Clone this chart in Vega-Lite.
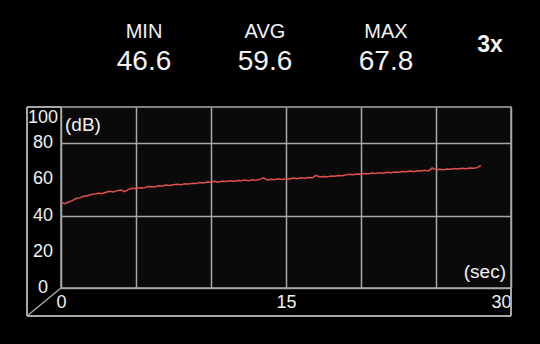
{
  "$schema": "https://vega.github.io/schema/vega-lite/v6.json",
  "autosize": "none",
  "width": 450,
  "height": 181,
  "padding": {"left": 61, "top": 107, "right": 29, "bottom": 56},
  "background": "#000000",
  "config": {
    "font": "Liberation Sans",
    "view": {"stroke": "#a8a8a8", "strokeWidth": 1.5, "fill": "#0a0a0a"},
    "text": {"color": "#f2f2f2", "font": "Liberation Sans"}
  },
  "datasets": {
    "spl": [
      {"t": 0.00, "v": 47.4}, {"t": 0.25, "v": 46.6}, {"t": 0.50, "v": 47.5}, {"t": 0.75, "v": 48.3},
      {"t": 1.00, "v": 49.4}, {"t": 1.25, "v": 49.8}, {"t": 1.50, "v": 50.7}, {"t": 1.75, "v": 50.9},
      {"t": 2.00, "v": 51.6}, {"t": 2.25, "v": 51.9}, {"t": 2.50, "v": 52.4}, {"t": 2.75, "v": 52.2},
      {"t": 3.00, "v": 52.9}, {"t": 3.25, "v": 53.4}, {"t": 3.50, "v": 53.1}, {"t": 3.75, "v": 53.8},
      {"t": 4.00, "v": 54.1}, {"t": 4.25, "v": 53.2}, {"t": 4.50, "v": 54.5}, {"t": 4.75, "v": 55.1},
      {"t": 5.00, "v": 55.0}, {"t": 5.25, "v": 55.4}, {"t": 5.50, "v": 55.2}, {"t": 5.75, "v": 55.9},
      {"t": 6.00, "v": 56.1}, {"t": 6.25, "v": 55.8}, {"t": 6.50, "v": 56.5}, {"t": 6.75, "v": 56.4},
      {"t": 7.00, "v": 56.9}, {"t": 7.25, "v": 56.6}, {"t": 7.50, "v": 57.1}, {"t": 7.75, "v": 57.3},
      {"t": 8.00, "v": 57.0}, {"t": 8.25, "v": 57.6}, {"t": 8.50, "v": 57.4}, {"t": 8.75, "v": 57.9},
      {"t": 9.00, "v": 57.7}, {"t": 9.25, "v": 58.3}, {"t": 9.50, "v": 58.0}, {"t": 9.75, "v": 58.6},
      {"t": 10.00, "v": 58.4}, {"t": 10.25, "v": 58.9}, {"t": 10.50, "v": 58.5}, {"t": 10.75, "v": 59.1},
      {"t": 11.00, "v": 58.8}, {"t": 11.25, "v": 59.2}, {"t": 11.50, "v": 59.0}, {"t": 11.75, "v": 59.4},
      {"t": 12.00, "v": 59.3}, {"t": 12.25, "v": 59.7}, {"t": 12.50, "v": 59.2}, {"t": 12.75, "v": 59.8},
      {"t": 13.00, "v": 59.5}, {"t": 13.25, "v": 60.0}, {"t": 13.50, "v": 60.9}, {"t": 13.75, "v": 59.7},
      {"t": 14.00, "v": 60.1}, {"t": 14.25, "v": 59.8}, {"t": 14.50, "v": 60.3}, {"t": 14.75, "v": 60.0},
      {"t": 15.00, "v": 60.4}, {"t": 15.25, "v": 60.2}, {"t": 15.50, "v": 60.7}, {"t": 15.75, "v": 60.4},
      {"t": 16.00, "v": 60.9}, {"t": 16.25, "v": 60.6}, {"t": 16.50, "v": 61.1}, {"t": 16.75, "v": 60.9},
      {"t": 17.00, "v": 62.2}, {"t": 17.25, "v": 61.3}, {"t": 17.50, "v": 61.6}, {"t": 17.75, "v": 61.4},
      {"t": 18.00, "v": 61.9}, {"t": 18.25, "v": 61.7}, {"t": 18.50, "v": 62.2}, {"t": 18.75, "v": 62.0},
      {"t": 19.00, "v": 62.5}, {"t": 19.25, "v": 62.9}, {"t": 19.50, "v": 62.6}, {"t": 19.75, "v": 63.0},
      {"t": 20.00, "v": 62.8}, {"t": 20.25, "v": 63.3}, {"t": 20.50, "v": 63.1}, {"t": 20.75, "v": 63.5},
      {"t": 21.00, "v": 63.3}, {"t": 21.25, "v": 63.7}, {"t": 21.50, "v": 63.4}, {"t": 21.75, "v": 63.9},
      {"t": 22.00, "v": 63.7}, {"t": 22.25, "v": 64.1}, {"t": 22.50, "v": 63.9}, {"t": 22.75, "v": 64.4},
      {"t": 23.00, "v": 64.2}, {"t": 23.25, "v": 64.6}, {"t": 23.50, "v": 64.3}, {"t": 23.75, "v": 64.8},
      {"t": 24.00, "v": 64.6}, {"t": 24.25, "v": 65.0}, {"t": 24.50, "v": 64.7}, {"t": 24.75, "v": 66.4},
      {"t": 25.00, "v": 65.3}, {"t": 25.25, "v": 65.6}, {"t": 25.50, "v": 65.4}, {"t": 25.75, "v": 65.8},
      {"t": 26.00, "v": 65.6}, {"t": 26.25, "v": 66.0}, {"t": 26.50, "v": 65.8}, {"t": 26.75, "v": 66.2},
      {"t": 27.00, "v": 65.9}, {"t": 27.25, "v": 66.3}, {"t": 27.50, "v": 66.1}, {"t": 27.75, "v": 66.5},
      {"t": 28.00, "v": 67.8}
    ],
    "stats": [
      {"stat": "MIN", "value": 46.6},
      {"stat": "AVG", "value": 59.6},
      {"stat": "MAX", "value": 67.8}
    ],
    "yticks": [{"v": 0}, {"v": 20}, {"v": 40}, {"v": 60}, {"v": 80}],
    "one": [{}]
  },
  "layer": [
    {
      "layer": [
        {
          "data": {"name": "spl"},
          "mark": {"type": "line", "color": "#e0504c", "strokeWidth": 1.5, "clip": true},
          "encoding": {
            "x": {
              "field": "t", "type": "quantitative",
              "scale": {"domain": [0, 30], "nice": false},
              "axis": {
                "title": null, "values": [0, 5, 10, 15, 20, 25, 30],
                "labelExpr": "datum.value % 15 == 0 ? datum.label : ''",
                "grid": true, "gridColor": "#a8a8a8", "gridWidth": 1.5,
                "domain": false, "ticks": false, "labelOverlap": false,
                "labelFont": "Liberation Sans", "labelFontSize": 18, "labelColor": "#f2f2f2",
                "labelPadding": 14, "labelBaseline": "middle", "labelFlush": false,
                "labelAlign": {"condition": {"test": "datum.value == 30", "value": "right"}, "value": "center"}
              }
            },
            "y": {
              "field": "v", "type": "quantitative",
              "scale": {"domain": [0, 100], "nice": false},
              "axis": {
                "title": null, "values": [0, 20, 40, 60, 80, 100],
                "grid": true, "gridColor": "#a8a8a8", "gridWidth": 1.5,
                "domain": false, "ticks": false, "labels": false
              }
            }
          }
        },
        {
          "data": {"name": "yticks"},
          "mark": {"type": "text", "fontSize": 18, "align": "center", "baseline": "middle"},
          "encoding": {
            "text": {"field": "v", "type": "quantitative"},
            "x": {"datum": -1.2, "type": "quantitative", "scale": {"domain": [0, 30], "nice": false}},
            "y": {"field": "v", "type": "quantitative", "scale": {"domain": [0, 100], "nice": false}}
          }
        },
        {
          "data": {"name": "one"},
          "mark": {"type": "text", "text": "100", "fontSize": 18, "align": "center", "baseline": "middle", "dy": 11},
          "encoding": {
            "x": {"datum": -1.2, "type": "quantitative", "scale": {"domain": [0, 30], "nice": false}},
            "y": {"datum": 100, "type": "quantitative", "scale": {"domain": [0, 100], "nice": false}}
          }
        },
        {
          "data": {"name": "one"},
          "mark": {"type": "rule", "color": "#a8a8a8", "strokeWidth": 2},
          "encoding": {
            "x": {"datum": -2.267, "type": "quantitative", "scale": {"domain": [0, 30], "nice": false}},
            "y": {"datum": -15.47, "type": "quantitative", "scale": {"domain": [0, 100], "nice": false}},
            "y2": {"datum": 100}
          }
        },
        {
          "data": {"name": "one"},
          "mark": {"type": "rule", "color": "#a8a8a8", "strokeWidth": 2},
          "encoding": {
            "x": {"datum": -2.267, "type": "quantitative", "scale": {"domain": [0, 30], "nice": false}},
            "x2": {"datum": 30},
            "y": {"datum": -15.47, "type": "quantitative", "scale": {"domain": [0, 100], "nice": false}}
          }
        },
        {
          "data": {"name": "one"},
          "mark": {"type": "rule", "color": "#a8a8a8", "strokeWidth": 2},
          "encoding": {
            "x": {"datum": 30, "type": "quantitative", "scale": {"domain": [0, 30], "nice": false}},
            "y": {"datum": -15.47, "type": "quantitative", "scale": {"domain": [0, 100], "nice": false}},
            "y2": {"datum": 0}
          }
        },
        {
          "data": {"name": "one"},
          "mark": {"type": "rule", "color": "#a8a8a8", "strokeWidth": 2},
          "encoding": {
            "x": {"datum": -2.267, "type": "quantitative", "scale": {"domain": [0, 30], "nice": false}},
            "x2": {"datum": 0},
            "y": {"datum": 100, "type": "quantitative", "scale": {"domain": [0, 100], "nice": false}}
          }
        },
        {
          "data": {"name": "one"},
          "mark": {"type": "rule", "color": "#a8a8a8", "strokeWidth": 1.5},
          "encoding": {
            "x": {"datum": -2.267, "type": "quantitative", "scale": {"domain": [0, 30], "nice": false}},
            "x2": {"datum": 0},
            "y": {"datum": -15.47, "type": "quantitative", "scale": {"domain": [0, 100], "nice": false}},
            "y2": {"datum": 0}
          }
        },
        {
          "data": {"name": "one"},
          "mark": {"type": "text", "text": "(dB)", "fontSize": 19, "align": "left", "baseline": "middle", "dx": 4, "dy": 18},
          "encoding": {
            "x": {"datum": 0, "type": "quantitative", "scale": {"domain": [0, 30], "nice": false}},
            "y": {"datum": 100, "type": "quantitative", "scale": {"domain": [0, 100], "nice": false}}
          }
        },
        {
          "data": {"name": "one"},
          "mark": {"type": "text", "text": "(sec)", "fontSize": 19, "align": "right", "baseline": "middle", "dx": -5, "dy": -16},
          "encoding": {
            "x": {"datum": 30, "type": "quantitative", "scale": {"domain": [0, 30], "nice": false}},
            "y": {"datum": 0, "type": "quantitative", "scale": {"domain": [0, 100], "nice": false}}
          }
        },
        {
          "data": {"name": "one"},
          "mark": {"type": "text", "text": "3x", "fontSize": 23, "fontWeight": "bold", "align": "center", "baseline": "middle"},
          "encoding": {
            "x": {"datum": 28.6, "type": "quantitative", "scale": {"domain": [0, 30], "nice": false}},
            "y": {"datum": 134.3, "type": "quantitative", "scale": {"domain": [0, 100], "nice": false}}
          }
        }
      ]
    },
    {
      "data": {"name": "stats"},
      "encoding": {
        "x": {
          "field": "stat", "type": "nominal",
          "scale": {"type": "point", "domain": ["MIN", "AVG", "MAX"], "padding": 0.8595, "align": 0.399},
          "axis": null
        }
      },
      "layer": [
        {
          "mark": {"type": "text", "fontSize": 20, "align": "center", "baseline": "middle"},
          "encoding": {
            "text": {"field": "stat"},
            "y": {"datum": 141.4, "type": "quantitative", "scale": {"domain": [0, 100], "nice": false}}
          }
        },
        {
          "mark": {"type": "text", "fontSize": 28, "align": "center", "baseline": "middle"},
          "encoding": {
            "text": {"field": "value", "format": ".1f"},
            "y": {"datum": 124.9, "type": "quantitative", "scale": {"domain": [0, 100], "nice": false}}
          }
        }
      ]
    }
  ],
  "resolve": {"scale": {"x": "independent"}}
}
